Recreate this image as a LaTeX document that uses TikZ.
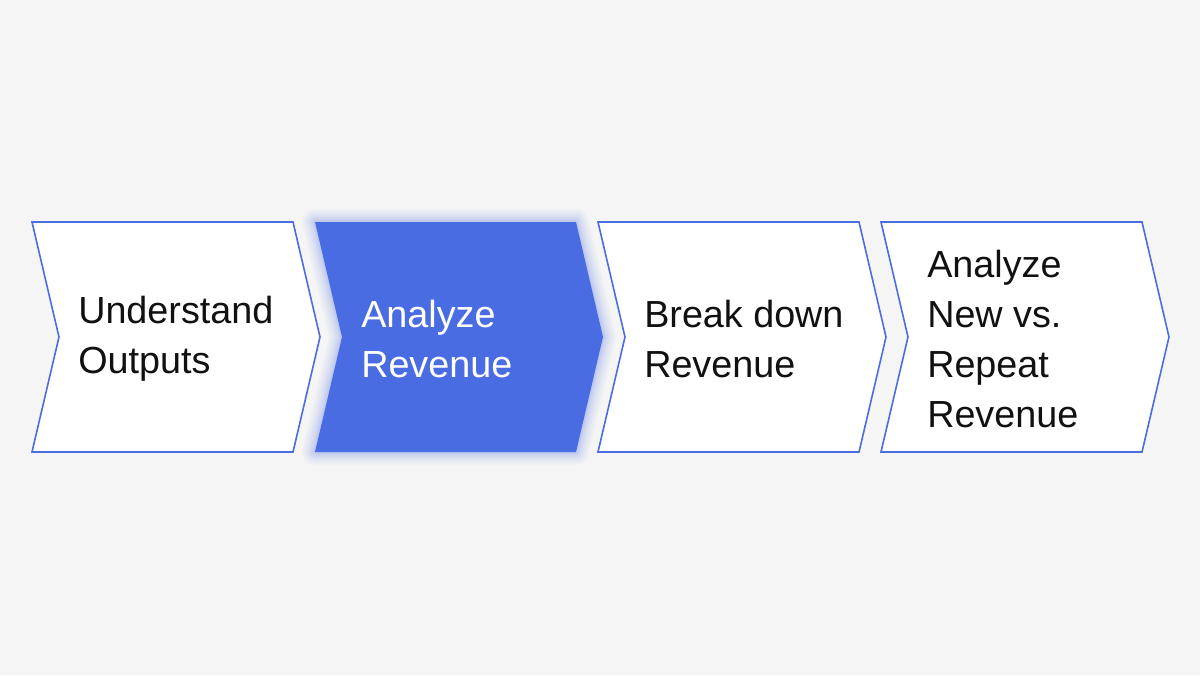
\documentclass[tikz,border=0pt]{standalone}
\usepackage{fontspec}
\setmainfont{Liberation Sans}
\definecolor{bgc}{HTML}{F5F5F5}
\definecolor{edgeblue}{HTML}{4A6EE0}
\definecolor{fillblue}{HTML}{4A6CE3}
\definecolor{txt}{HTML}{111111}
\begin{document}
\begin{tikzpicture}[x=0.75pt,y=-0.75pt,
  chev/.style={draw=edgeblue,line width=1.2pt,fill=white,line join=miter},
  chevon/.style={fill=fillblue,draw=none},
  lbl/.style={anchor=west,align=left,inner sep=0pt,text=txt,
    font=\fontsize{28.3pt}{37.5pt}\selectfont},
  lblon/.style={lbl,text=white}]
\fill[bgc] (0,0) rectangle (1200,675);
\useasboundingbox (0,0) rectangle (1200,675);
\def\chevpath#1{(#1,222) -- (#1+261,222) -- (#1+288,337) -- (#1+261,452) -- (#1,452) -- (#1+27,337) -- cycle}
% soft glow for the active chevron
\foreach \w/\o in {26/0.03,22/0.035,18/0.04,14/0.05,10/0.06,6/0.07,3/0.08}{
  \draw[fillblue,opacity=\o,line width=\w*0.75pt,line join=round] \chevpath{315};
}
\path[chev] \chevpath{32};
\path[chevon] \chevpath{315};
\path[chev] \chevpath{598};
\path[chev] \chevpath{881};
\node[lbl] (t1) at (78,339) {Understand\\Outputs};
\node[lblon] (t2) at (361,339) {Analyze\\Revenue};
\node[lbl] (t3) at (644,339) {Break down\\Revenue};
\node[lbl] (t4) at (927,339) {Analyze\\New vs.\\Repeat\\Revenue};
\end{tikzpicture}
\end{document}
